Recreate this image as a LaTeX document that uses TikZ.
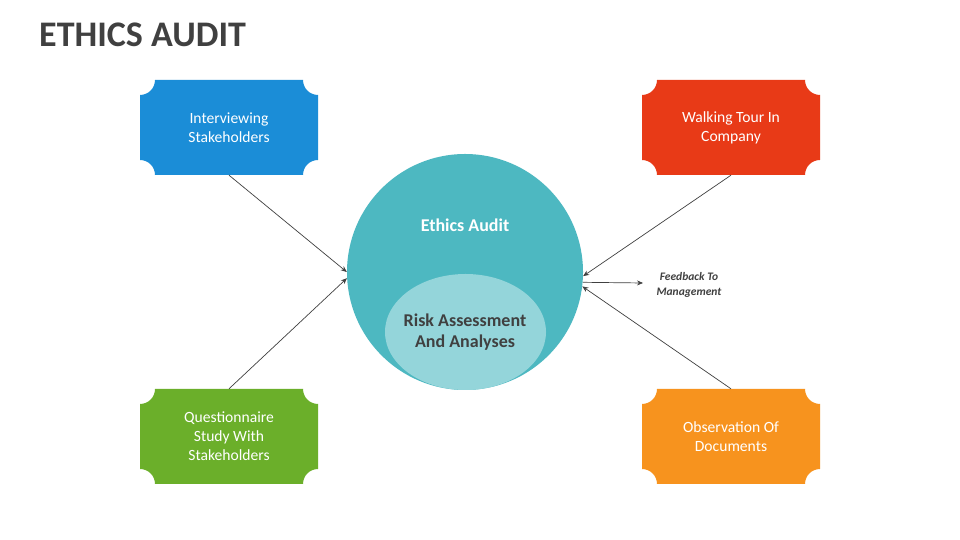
\documentclass[tikz,border=0pt]{standalone}
\usepackage{fontspec}
\setmainfont{Carlito}
\usetikzlibrary{arrows.meta,shapes.geometric}
\definecolor{cblue}{HTML}{1B8DD7}
\definecolor{cred}{HTML}{E83A17}
\definecolor{cgreen}{HTML}{6BAF2A}
\definecolor{corange}{HTML}{F7931E}
\definecolor{cteal}{HTML}{4DB8C1}
\definecolor{clight}{HTML}{94D5DA}
\definecolor{cdark}{HTML}{404040}
\newcommand{\ticketshape}[5]{%
  \fill[#1] (#2+15,#5) -- (#4-15,#5) arc[start angle=180,end angle=270,radius=15]
    -- (#4,#3+15) arc[start angle=90,end angle=180,radius=15]
    -- (#2+15,#3) arc[start angle=0,end angle=90,radius=15]
    -- (#2,#5-15) arc[start angle=270,end angle=360,radius=15] -- cycle;}
\tikzset{
  boxtext/.style={text=white,align=center,font=\fontsize{15.6}{19}\selectfont,minimum width=178pt,minimum height=95pt,inner sep=0pt},
  conn/.style={draw=cdark,line width=0.7pt,-{Stealth[length=6pt,width=5pt]}},
}
\begin{document}
\begin{tikzpicture}[x=1pt,y=1pt]
\useasboundingbox (0,0) rectangle (960,540);
\fill[white] (0,0) rectangle (960,540);
\node[anchor=west,text=cdark,font=\fontsize{36}{40}\selectfont\bfseries,inner sep=0pt] (title) at (39,505) {ETHICS AUDIT};
% boxes
\ticketshape{cblue}{140}{365}{318}{460}
\ticketshape{cred}{642}{365}{820}{460}
\ticketshape{cgreen}{140}{56}{318}{151}
\ticketshape{corange}{642}{56}{820}{151}
\node[boxtext] (b1) at (229,412.5) {Interviewing\\Stakeholders};
\node[boxtext] (b2) at (731,412.5) {Walking Tour In\\Company};
\node[boxtext] (b3) at (229,103.5) {Questionnaire\\Study With\\Stakeholders};
\node[boxtext] (b4) at (731,103.5) {Observation Of\\Documents};
% circle
\node[circle,fill=cteal,minimum size=236pt,inner sep=0pt] (c) at (465,268) {};
\node[ellipse,fill=clight,minimum width=161pt,minimum height=116pt,inner sep=0pt] (e) at (465.5,208) {};
\node[text=white,font=\fontsize{18}{20}\selectfont\bfseries] (ct) at (465,315) {Ethics Audit};
\node[text=cdark,align=center,font=\fontsize{18}{21}\selectfont\bfseries] (et) at (465,208) {Risk Assessment\\And Analyses};
% connectors
\draw[conn] (b1.south) -- (c.180.5);
\draw[conn] (b3.north) -- (c.183.3);
\draw[conn] (b2.south) -- (c.-2.2);
\draw[conn] (b4.north) -- (c.-7.8);
\coordinate (fb) at (643,257);
\draw[conn] (c.-5.3) -- (fb);
\node[text=cdark,align=center,font=\fontsize{11.5}{15}\selectfont\bfseries\itshape] (fl) at (689,255) {Feedback To\\Management};
\end{tikzpicture}
\end{document}
